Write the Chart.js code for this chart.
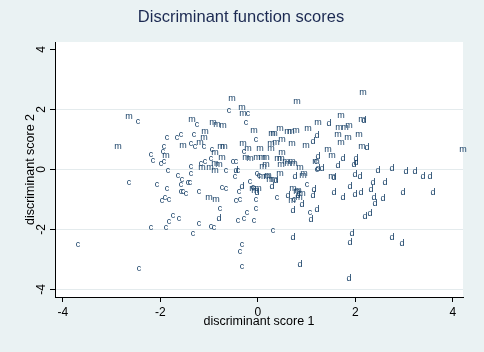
<!DOCTYPE html>
<html>
<head>
<meta charset="utf-8">
<script src="https://cdn.jsdelivr.net/npm/chart.js@4.4.1/dist/chart.umd.min.js"></script>
<style>
    html, body { margin: 0; padding: 0; background: #eaf2f3; }
    #wrap { width: 484px; height: 352px; }
</style>
</head>
<body>
<div id="wrap"><canvas id="main-chart" width="484" height="352"></canvas></div>
<script>
// group "c"
const c_x = [-0.59, -0.21, -0.25, -2.46, -1.25, -1.31, -1.87, -1.66, -1.58, -0.04,
    -1.37, -1.29, -1.11, -1.93, -1.95, -0.94, -0.29, -2.19, -2.15, -1.93,
    -1.99, -0.96, -1.09, -1.17, -0.51, -0.45, -1.37, -1.85, -0.66, -0.41,
    -0.47, -1.37, -1.64, -0.02, 0.02, -2.65, -2.07, -1.56, -1.58, -1.39,
    -1.44, -1.87, -1.58, -1.54, -1.48, -1.21, -0.74, -0.66, -0.39, -0.16,
    -0.10, -1.97, -1.91, -1.83, -0.45, -0.37, -0.04, -0.78, -1.74, -1.83,
    -1.62, -1.21, -0.96, -0.90, -0.41, -0.29, -0.23, -0.08, -0.04, -2.19,
    -1.89, -1.33, -3.69, -0.33, -0.37, -2.44, -0.33, 0.39, 0.31, 1.01,
    1.07, 1.19, 1.21, 0.74, 0.84];
const c_y = [1.97, 1.87, 1.60, 1.63, 1.53, 1.20, 1.10, 1.07, 1.17, 1.03,
    0.87, 0.80, 0.77, 0.77, 0.63, 0.70, 0.63, 0.53, 0.33, 0.30,
    0.23, 0.40, 0.30, 0.23, 0.27, 0.30, 0.13, 0.00, 0.00, 0.00,
    -0.20, -0.10, -0.17, -0.10, -0.17, -0.43, -0.47, -0.33, -0.47, -0.40,
    -0.43, -0.63, -0.70, -0.73, -0.77, -0.70, -0.57, -0.63, -0.70, -0.37,
    -0.57, -1.00, -0.93, -0.97, -1.03, -0.97, -0.97, -1.27, -1.50, -1.73,
    -1.63, -1.77, -1.87, -1.93, -1.67, -1.63, -1.43, -1.67, -1.27, -1.90,
    -1.90, -2.10, -2.47, -2.47, -2.73, -3.27, -3.20, -0.90, -2.03, -0.47,
    -1.43, 0.30, 0.03, -0.97, -0.77];

// group "m"
const m_x = [-0.53, 0.80, 2.15, -0.33, -0.31, -2.65, -1.35, -0.92, -0.84, -0.72,
    -0.08, -1.09, -1.11, -2.87, -1.54, -1.19, -0.31, -0.76, -0.70, -0.21,
    -0.88, -1.89, -0.74, -0.25, -0.16, -0.02, -0.88, -0.80, -1.15, -0.88,
    -0.98, 1.70, 1.23, 2.13, 1.66, 1.78, 1.87, 0.29, 0.33, 0.45,
    0.62, 0.68, 0.78, 1.03, 1.64, 1.85, 2.07, 0.27, 0.37, 0.49,
    0.70, 0.98, 1.70, 2.13, 4.20, 0.04, 0.27, 0.49, 0.47, 1.44,
    1.52, 0.08, 0.16, 0.41, 0.57, 0.62, 0.70, 0.74, 1.19, 0.47,
    0.10, 0.16, 0.86, 0.08, 0.18, 0.21, 0.45, 0.25, 0.33, 0.92,
    0.94, 1.52, -0.10, -0.06, 0.00, 0.72, 0.80, 0.82, 0.90, 0.70,
    0.84, -1.01, -0.86];
const m_y = [2.40, 2.27, 2.57, 2.07, 1.90, 1.77, 1.67, 1.60, 1.53, 1.47,
    1.33, 1.30, 1.10, 0.80, 0.83, 0.93, 0.87, 0.77, 0.77, 0.73,
    0.60, 0.47, 0.43, 0.43, 0.40, 0.43, 0.23, 0.17, 0.07, 0.00,
    0.07, 1.83, 1.60, 1.67, 1.43, 1.43, 1.50, 1.23, 1.23, 1.40,
    1.30, 1.27, 1.33, 1.37, 1.17, 1.10, 1.20, 0.90, 0.93, 1.03,
    0.90, 0.83, 0.93, 0.80, 0.70, 0.73, 0.73, 0.57, 0.40, 0.67,
    0.50, 0.43, 0.43, 0.37, 0.27, 0.23, 0.27, 0.23, 0.27, 0.17,
    0.13, 0.17, 0.07, -0.23, -0.23, -0.17, -0.13, -0.33, -0.33, -0.17,
    -0.13, -0.23, -0.63, -0.67, -0.60, -0.63, -0.73, -0.67, -0.77, -1.00,
    -0.93, -0.90, -0.97];

// group "d"
const d_x = [1.46, 2.17, 1.21, 1.13, 2.24, 1.23, 1.74, 2.01, 1.23, 1.31,
    1.64, 2.01, 1.97, 2.46, 2.75, 3.04, 3.22, 3.38, 3.53, -0.45,
    -0.33, -0.80, 0.37, 0.76, 1.56, 1.99, 2.09, 0.29, 1.15, 1.89,
    2.36, 2.61, -0.02, 0.62, 0.82, 1.13, 0.90, 1.56, 1.74, 1.99,
    2.11, 2.32, 2.38, 2.40, 2.56, 2.97, 3.59, 0.72, 1.09, 1.21,
    2.19, 2.30, 0.72, 1.93, 1.89, 2.75, 2.95, 0.86, 1.87];
const d_y = [1.60, 1.70, 1.20, 0.97, 0.77, 0.47, 0.43, 0.43, 0.10, 0.07,
    0.17, 0.27, 0.23, 0.03, 0.07, 0.00, -0.03, -0.17, -0.17, 0.03,
    -0.53, -1.57, -0.33, -0.17, -0.20, -0.13, -0.17, -0.53, -0.60, -0.50,
    -0.37, -0.37, -0.73, -0.80, -0.83, -0.83, -1.13, -0.70, -0.87, -0.77,
    -0.73, -0.60, -0.87, -1.07, -0.90, -0.70, -0.70, -1.33, -1.60, -1.27,
    -1.53, -1.43, -2.23, -2.07, -2.37, -2.23, -2.40, -3.10, -3.57];

const x_ticks = [-4, -2, 0, 2, 4];
const y_ticks = [-4, -2, 0, 2, 4];

document.addEventListener("DOMContentLoaded", () => {
    const ctx = document.getElementById("main-chart").getContext("2d");
    const warna_label = "#163f66";
    const font_umum = "'Liberation Sans', Arial, sans-serif";

    // each group is drawn with its own letter as the marker
    const buat_huruf = (ch) => {
        const c = document.createElement("canvas");
        c.width = 10;
        c.height = 14;
        const g = c.getContext("2d");
        g.font = "9px " + font_umum;
        g.fillStyle = warna_label;
        g.textAlign = "center";
        g.textBaseline = "alphabetic";
        g.fillText(ch, 5, 7 + (ch === "d" ? 3.5 : 2.5));
        return c;
    };

    const gabung = (xs, ys) => xs.map((x, i) => ({ x: x, y: ys[i] }));

    const latar = {
        id: "latar",
        beforeDraw: (chart) => {
            const { ctx, chartArea: a } = chart;
            ctx.save();
            ctx.fillStyle = "#eaf2f3";
            ctx.fillRect(0, 0, chart.width, chart.height);
            ctx.fillStyle = "#ffffff";
            ctx.fillRect(a.left, a.top, a.right - a.left, a.bottom - a.top);
            ctx.restore();
        },
        beforeDatasetsDraw: (chart) => {
            chart.ctx.imageSmoothingEnabled = false;
        },
        afterDatasetsDraw: (chart) => {
            chart.ctx.imageSmoothingEnabled = true;
        },
    };

    const dataset = (name, xs, ys) => ({
        label: name,
        data: gabung(xs, ys),
        pointStyle: buat_huruf(name),
        pointRadius: 4,
        showLine: false,
        clip: false,
    });

    new Chart(ctx, {
        type: "scatter",
        data: {
            datasets: [
                dataset("c", c_x, c_y),
                dataset("m", m_x, m_y),
                dataset("d", d_x, d_y),
            ],
        },
        plugins: [latar],
        options: {
            responsive: false,
            animation: false,
            devicePixelRatio: 1,
            layout: { padding: { left: 19, right: 21, top: 0, bottom: 0 } },
            plugins: {
                legend: { display: false },
                tooltip: { enabled: false },
                title: {
                    display: true,
                    text: "Discriminant function scores",
                    color: "#1c2a52",
                    font: { family: font_umum, size: 16.5, weight: "normal", lineHeight: 1.2 },
                    padding: { top: 8, bottom: 14.2 },
                },
            },
            scales: {
                x: {
                    type: "linear",
                    min: -4.16,
                    max: 4.21,
                    afterFit: (scale) => { scale.height = 55; },
                    afterBuildTicks: (scale) => { scale.ticks = x_ticks.map((v) => ({ value: v })); },
                    border: { color: "#000000", width: 1 },
                    grid: { drawOnChartArea: false, tickLength: 5, tickColor: "#000000" },
                    ticks: {
                        color: "#000000",
                        padding: 3,
                        font: { family: font_umum, size: 12 },
                        maxRotation: 0,
                        callback: (v) => String(v),
                    },
                    title: {
                        display: true,
                        text: "discriminant score 1",
                        color: "#000000",
                        font: { family: font_umum, size: 12.5 },
                        padding: { top: 0, bottom: 23 },
                    },
                },
                y: {
                    type: "linear",
                    min: -4.25,
                    max: 4.25,
                    afterFit: (scale) => { scale.width = 36; },
                    afterBuildTicks: (scale) => { scale.ticks = y_ticks.map((v) => ({ value: v })); },
                    border: { color: "#000000", width: 1 },
                    grid: {
                        color: (c) => (c.tick && c.tick.value === 4 ? "rgba(0,0,0,0)" : "#e4ebed"),
                        tickLength: 5,
                        tickColor: "#000000",
                    },
                    ticks: {
                        color: "#000000",
                        padding: 3,
                        crossAlign: "center",
                        minRotation: 90,
                        maxRotation: 90,
                        font: { family: font_umum, size: 12 },
                        callback: (v) => String(v),
                    },
                    title: {
                        display: true,
                        text: "discriminant score 2",
                        color: "#000000",
                        font: { family: font_umum, size: 12.5 },
                        padding: { top: 4.5, bottom: 0 },
                    },
                },
            },
        },
    });
});
</script>
</body>
</html>
